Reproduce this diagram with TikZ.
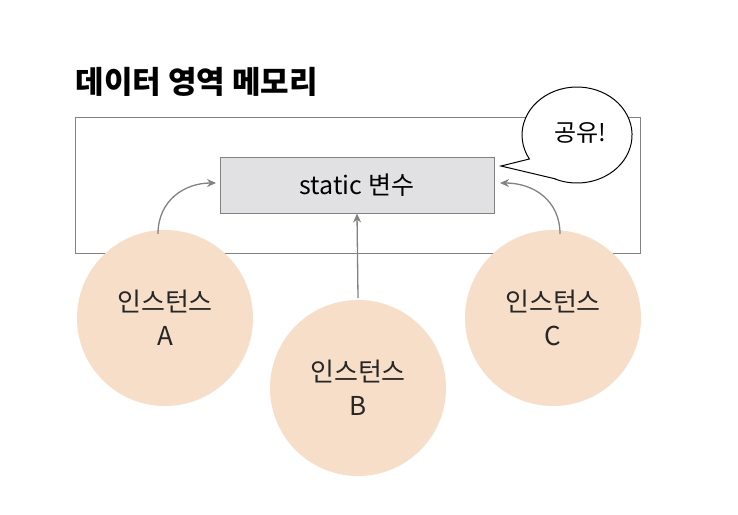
\documentclass[tikz,border=0pt]{standalone}
\usepackage{fontspec}
\setmainfont{Noto Sans CJK KR}
\usetikzlibrary{arrows.meta}
\definecolor{peach}{RGB}{246,222,200}
\definecolor{boxg}{RGB}{225,225,227}
\definecolor{lineg}{RGB}{130,130,130}
\tikzset{inst/.style={circle,fill=peach,minimum size=176pt,inner sep=0pt,align=center,font=\fontsize{26}{34}\selectfont,text=black!85},
arr/.style={lineg,line width=1.3pt,-{Stealth[length=9pt,width=8pt]}}}
\begin{document}
\begin{tikzpicture}[x=1pt,y=-1pt]
\useasboundingbox[fill=white] (0,0) rectangle (738,514);
\node[anchor=west,font=\fontsize{31}{34}\selectfont\bfseries] (title) at (72,82) {데이터 영역 메모리};
\node[draw=lineg,line width=1pt,minimum width=565pt,minimum height=136pt,anchor=north west,inner sep=0pt] (mem) at (75,117) {};
\node[draw=lineg,line width=1pt,fill=boxg,minimum width=274pt,minimum height=56pt,font=\fontsize{25}{28}\selectfont] (st) at (357,185) {static 변수};
\node[inst] (a) at (165,318) {인스턴스\\A};
\node[inst] (b) at (358,388) {인스턴스\\B};
\node[inst] (c) at (553,318) {인스턴스\\C};
\coordinate (a1) at (158,234); \coordinate (c1) at (560,234); \coordinate (b1) at (358,298);
\coordinate (aw) at (216,183); \coordinate (ce) at (500,183);
\draw[arr] (a1) .. controls (158,200) and (185,183) .. (aw);
\draw[arr] (c1) .. controls (560,200) and (533,183) .. (ce);
\draw[arr] (b1) -- (st.south);
\draw[line width=1pt,fill=white] (553.8,178.5) -- (501,166) -- (529.4,159) arc[start angle=150,end angle=475,x radius=55,y radius=48] -- cycle;
\node[font=\fontsize{24}{28}\selectfont] (g) at (580,133) {공유!};
\end{tikzpicture}
\end{document}
